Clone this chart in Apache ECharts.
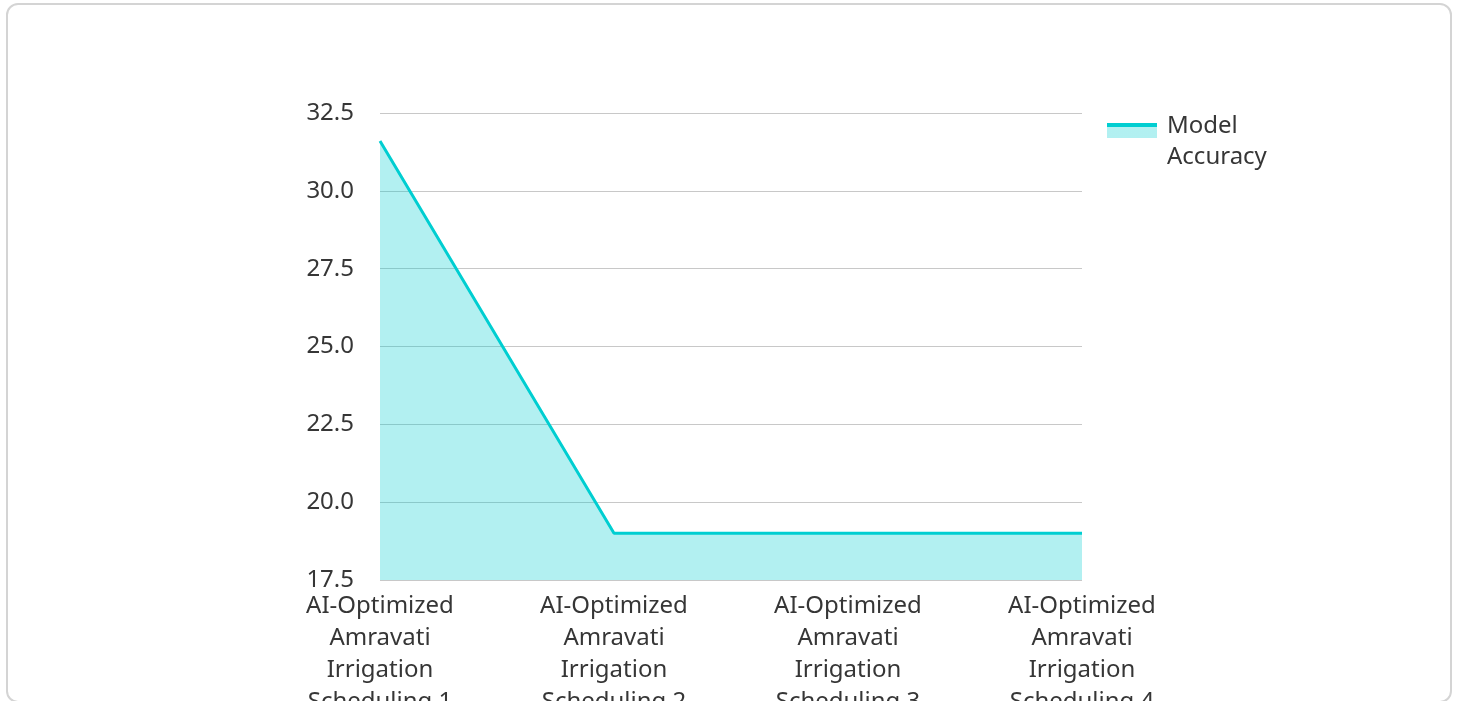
<!DOCTYPE html>
<html>
<head>
<meta charset="utf-8">
<script src="https://cdn.jsdelivr.net/npm/echarts@6/dist/echarts.min.js"></script>
<style>
  html, body { margin: 0; padding: 0; width: 1458px; height: 701px; overflow: hidden; background: #fff; }
  #card { position: absolute; left: 6px; top: 3px; width: 1446px; height: 700px; box-sizing: border-box;
          border: 2px solid #d4d4d4; border-radius: 12px; background: #fff; }
  #chart { position: absolute; left: 0; top: 0; width: 1458px; height: 701px; }
</style>
</head>
<body>
<div id="card"></div>
<div id="chart"></div>
<script>
const categories = [
  'AI-Optimized Amravati Irrigation Scheduling 1',
  'AI-Optimized Amravati Irrigation Scheduling 2',
  'AI-Optimized Amravati Irrigation Scheduling 3',
  'AI-Optimized Amravati Irrigation Scheduling 4'
];
const seriesName = 'Model Accuracy';
const accuracyValues = [31.6, 19.0, 19.0, 19.0];
const yMin = 17.5;
const yMax = 32.5;
const yStep = 2.5;

const lineColor = '#00CED1';
const areaColor = 'rgba(0,206,209,0.3)';
const textColor = '#363636';
const fontFamily = '"Noto Sans", sans-serif';

const chart = echarts.init(document.getElementById('chart'), null, { renderer: 'canvas' });
chart.setOption({
  animation: false,
  backgroundColor: 'transparent',
  textStyle: { fontFamily: fontFamily },
  grid: { left: 380, right: 376, top: 113, bottom: 121, containLabel: false, outerBoundsMode: 'none' },
  legend: {
    show: true,
    orient: 'vertical',
    left: 1107,
    top: 111,
    padding: 0,
    itemWidth: 55,
    itemHeight: 38,
    itemGap: 10,
    symbolKeepAspect: false,
    data: [{
      name: seriesName,
      icon: 'path://M0,0H50V15H0Z M55,38H54.99V37.99Z',
      itemStyle: {
        borderWidth: 0,
        color: {
          type: 'linear', x: 0, y: 0, x2: 0, y2: 1,
          colorStops: [
            { offset: 0, color: lineColor },
            { offset: 0.105, color: lineColor },
            { offset: 0.105, color: areaColor },
            { offset: 1, color: areaColor }
          ]
        }
      }
    }],
    formatter: function (n) { return n.replace(' ', '\n'); },
    textStyle: { fontSize: 24, color: textColor, lineHeight: 31, fontFamily: fontFamily }
  },
  xAxis: {
    type: 'category',
    data: categories,
    boundaryGap: false,
    axisLine: { show: false },
    axisTick: { show: false },
    splitLine: { show: false },
    axisLabel: {
      color: textColor,
      fontSize: 24,
      lineHeight: 32,
      margin: 10,
      interval: 0,
      hideOverlap: false,
      fontFamily: fontFamily,
      formatter: function (v) { return v.replace(/ (?=[A-Za-z])/g, '\n'); }
    }
  },
  yAxis: {
    type: 'value',
    min: yMin,
    max: yMax,
    interval: yStep,
    axisLine: { show: false },
    axisTick: { show: false },
    splitLine: { show: true, lineStyle: { color: '#c8c8c8', width: 1 } },
    axisLabel: {
      color: textColor,
      fontSize: 24,
      margin: 26,
      fontFamily: fontFamily,
      formatter: function (v) { return v.toFixed(1); }
    }
  },
  series: [{
    name: seriesName,
    type: 'line',
    data: accuracyValues,
    smooth: false,
    symbol: 'none',
    showSymbol: false,
    lineStyle: { color: lineColor, width: 3 },
    itemStyle: { color: lineColor },
    areaStyle: { color: lineColor, opacity: 0.3 }
  }]
});
</script>
</body>
</html>
